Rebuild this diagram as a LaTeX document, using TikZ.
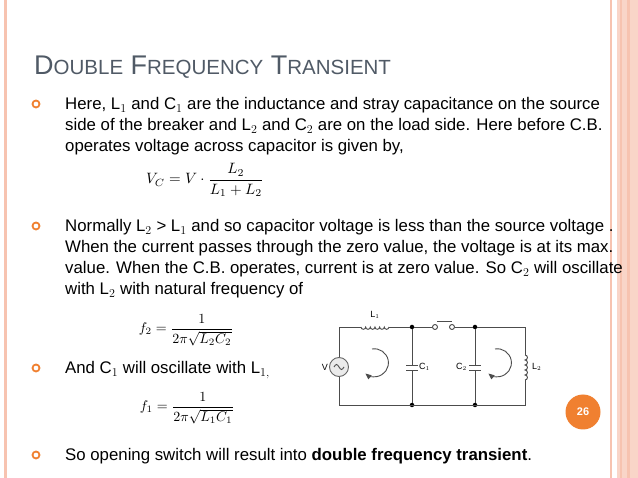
\documentclass[tikz,border=0pt]{standalone}
\usepackage{amsmath}
\usepackage{fontspec}
\setmainfont{Liberation Sans}
\usepackage{graphicx}
\usetikzlibrary{arrows.meta}
\definecolor{salmon}{HTML}{F7C3B0}
\definecolor{orng}{HTML}{F08030}
\definecolor{ttl}{HTML}{505A66}
\begin{document}
\begin{tikzpicture}[x=1pt,y=-1pt,
  body/.style={anchor=base west,inner sep=0pt,font=\fontsize{16.8}{20}\selectfont},
  bul/.style={draw=orng,line width=1.8pt,circle,inner sep=0pt,minimum size=7pt},
  frm/.style={anchor=center,inner sep=0pt},
  wire/.style={line width=0.9pt,draw=black!70},
  dot/.style={circle,fill=black,inner sep=0pt,minimum size=4.5pt},
  lab/.style={font=\fontsize{9}{10}\selectfont,inner sep=1pt}]
\useasboundingbox (0,0) rectangle (638,478);
\fill[white] (0,0) rectangle (638,478);
% borders
\fill[salmon] (4,0) rectangle (7,478);
\fill[salmon] (610,0) rectangle (612,478);
\fill[salmon!70] (617,0) rectangle (638,478);
\fill[salmon] (620,0) rectangle (622,478);
\fill[salmon] (627,0) rectangle (630,478);
% title
\node[anchor=base west,inner sep=0pt,text=ttl] (title) at (34,75)
  {\fontsize{27}{30}\selectfont D{\fontsize{20.5}{24}\selectfont OUBLE} F{\fontsize{20.5}{24}\selectfont REQUENCY} T{\fontsize{20.5}{24}\selectfont RANSIENT}};
% bullet 1
\node[bul] (b1) at (36,104) {};
\node[body] (t1a) at (65,110) {Here, L$_1$ and C$_1$ are the inductance and stray capacitance on the source};
\node[body] (t1b) at (65,131) {side of the breaker and L$_2$ and C$_2$ are on the load side. Here before C.B.};
\node[body] (t1c) at (65,152) {operates voltage across capacitor is given by,};
\node[frm] (f0) at (205,180) {\scalebox{1.5}{$V_{C}=V\cdot\dfrac{L_2}{L_1+L_2}$}};
% bullet 2
\node[bul] (b2) at (36,226) {};
\node[body] (t2a) at (65,232) {Normally L$_2$ > L$_1$ and so capacitor voltage is less than the source voltage .};
\node[body] (t2b) at (65,253) {When the current passes through the zero value, the voltage is at its max.};
\node[body] (t2c) at (65,274) {value. When the C.B. operates, current is at zero value. So C$_2$ will oscillate};
\node[body] (t2d) at (65,295) {with L$_2$ with natural frequency of};
\node[frm] (f2) at (186,330) {\scalebox{1.4}{$f_2=\dfrac{1}{2\pi\sqrt{L_2C_2}}$}};
% bullet 3
\node[bul] (b3) at (36,368) {};
\node[body] (t3) at (65,374) {And C$_1$ will oscillate with L$_{1,}$};
\node[frm] (f1) at (187,408) {\scalebox{1.4}{$f_1=\dfrac{1}{2\pi\sqrt{L_1C_1}}$}};
% bullet 4
\node[bul] (b4) at (36,455) {};
\node[body] (t4) at (65,461) {So opening switch will result into \textbf{double frequency transient}.};
% page number
\node[circle,fill=orng,minimum size=35pt,inner sep=0pt,text=white,font=\bfseries\fontsize{11}{12}\selectfont] (pg) at (583,412) {26};
% circuit
\coordinate (tl) at (339,327);
\coordinate (bl) at (339,405);
\coordinate (l1a) at (361,327);
\coordinate (l1b) at (389,327);
\node[dot] (n1) at (412,327) {};
\node[dot] (n1b) at (412,405) {};
\node[circle,draw=black!70,line width=0.9pt,fill=white,inner sep=0pt,minimum size=5pt] (s1) at (435,327) {};
\node[circle,draw=black!70,line width=0.9pt,fill=white,inner sep=0pt,minimum size=5pt] (s2) at (452,327) {};
\node[dot] (n2) at (475,327) {};
\node[dot] (n2b) at (475,405) {};
\coordinate (tr) at (525,327);
\coordinate (br) at (525,405);
\node[circle,draw=black!60,line width=0.9pt,fill=black!8,minimum size=19pt,inner sep=0pt] (V) at (339,367) {};
\draw[wire] (V.center) ++(-5,0) sin ++(2.5,-2.5) cos ++(2.5,2.5) sin ++(2.5,2.5) cos ++(2.5,-2.5);
\node[lab,anchor=east] (Vl) at (V.west) {V};
\draw[wire] (V.north) -- (tl) -- (l1a);
\draw[wire] (l1a) arc(180:0:2.33) arc(180:0:2.33) arc(180:0:2.33) arc(180:0:2.33) arc(180:0:2.33) arc(180:0:2.33);
\draw[wire] (l1b) -- (n1) -- (s1);
\draw[wire] (s2) -- (n2) -- (tr) -- (525,355);
\draw[wire] (525,355) arc(-90:90:2.5) arc(-90:90:2.5) arc(-90:90:2.5) arc(-90:90:2.5) arc(-90:90:2.5);
\draw[wire] (525,380) -- (br) -- (bl) -- (V.south);
\draw[wire] (s1.north east) ++(0,-3) -- ++(15,0);
\node[lab] (L1l) at (375,315) {L$_1$};
\node[lab,anchor=west] (L2l) at (531,367) {L$_2$};
% capacitors
\draw[wire] (n1) -- (412,365) (n1b) -- (412,370);
\draw[wire] (406,365) -- (418,365) (406,370) -- (418,370);
\node[lab,anchor=west] (C1l) at (418,367) {C$_1$};
\draw[wire] (n2) -- (475,365) (n2b) -- (475,370);
\draw[wire] (469,365) -- (481,365) (469,370) -- (481,370);
\node[lab,anchor=east] (C2l) at (468,367) {C$_2$};
% loop arrows
\draw[wire,-{Triangle[length=6pt,width=5pt]}] (372,349) arc(-100:130:14);
\draw[wire,-{Triangle[length=6pt,width=5pt]}] (495,349) arc(-100:130:14);
\end{tikzpicture}
\end{document}
